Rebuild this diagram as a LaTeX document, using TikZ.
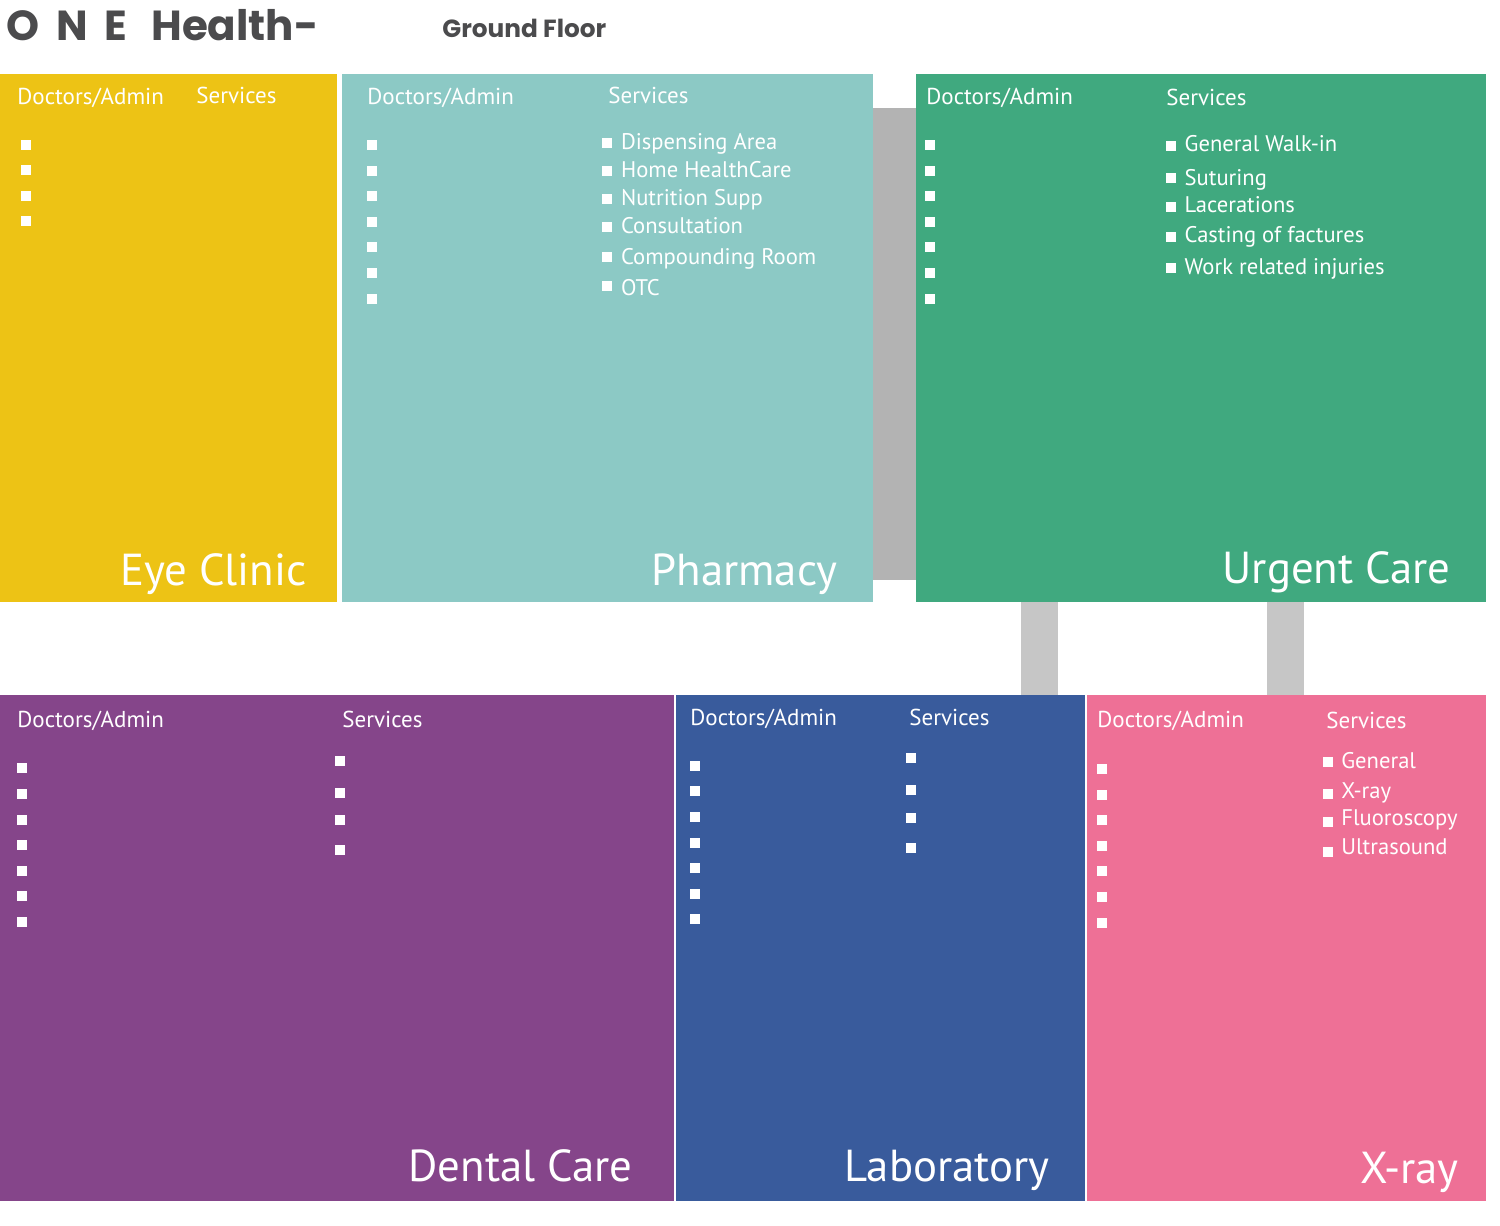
\documentclass[tikz,border=0pt]{standalone}
\usepackage{fontspec}
\setmainfont{PT Sans}
\newfontfamily\titlefont{Poppins}
\usetikzlibrary{calc}

\definecolor{eyeyellow}{HTML}{EDC315}
\definecolor{pharmteal}{HTML}{8CC9C5}
\definecolor{urgentgreen}{HTML}{40A97F}
\definecolor{dentalpurple}{HTML}{85458A}
\definecolor{labblue}{HTML}{395B9C}
\definecolor{xraypink}{HTML}{EE7096}
\definecolor{hallgray}{HTML}{B3B3B3}
\definecolor{linkgray}{HTML}{C6C6C6}
\definecolor{titlegray}{HTML}{4B4B4D}

\begin{document}
\begin{tikzpicture}[x=0.5pt,y=-0.5pt,
	head/.style={text=white,inner sep=0pt,anchor=base west,font=\fontsize{11.5}{13}\selectfont},
	item/.style={text=white,inner sep=0pt,anchor=base west,font=\fontsize{11.3}{13}\selectfont},
	roomname/.style={text=white,inner sep=0pt,anchor=base east,font=\fontsize{22.4}{27}\selectfont}]
	\pgfmathsetmacro{\bul}{10}			%size of a bullet square
	\pgfmathsetmacro{\gap}{25.6}		%spacing of the empty bullets
	\pgfmathsetmacro{\uptop}{74}		%top of the upper rooms
	\pgfmathsetmacro{\upbot}{602}		%bottom of the upper rooms
	\pgfmathsetmacro{\lowtop}{695}		%top of the lower rooms
	\pgfmathsetmacro{\lowbot}{1201}		%bottom of the lower rooms

	\useasboundingbox (0,0) rectangle (1500,1226);

	%title
	\node[anchor=base west,inner sep=0pt,text=titlegray,font=\titlefont\bfseries\fontsize{21}{25}\selectfont] (title) at (6,40) {O\kern4pt\ N\kern4pt\ E\kern3pt\ \ Health-};
	\node[anchor=base west,inner sep=0pt,text=titlegray,font=\titlefont\bfseries\fontsize{12.4}{15}\selectfont] (floor) at (442,38) {Ground Floor};

	%corridor and links
	\fill[hallgray] (873,108) rectangle (916,580);
	\fill[linkgray] (1021,\upbot) rectangle (1058,\lowtop);
	\fill[linkgray] (1267,\upbot) rectangle (1304,\lowtop);

	%upper rooms
	\fill[eyeyellow] (0,\uptop) rectangle (337,\upbot);
	\fill[pharmteal] (342,\uptop) rectangle (873,\upbot);
	\fill[urgentgreen] (916,\uptop) rectangle (1486,\upbot);

	%lower rooms
	\fill[dentalpurple] (0,\lowtop) rectangle (674,\lowbot);
	\fill[labblue] (676,\lowtop) rectangle (1085,\lowbot);
	\fill[xraypink] (1087,\lowtop) rectangle (1486,\lowbot);

	%eye clinic
	\node[head] (eyedoc) at (17,104) {Doctors/Admin};
	\node[head] (eyeserv) at (196,103) {Services};
	\foreach \i in {0,...,3} \fill[white] (21,{139.5+\i*\gap}) rectangle ++(\bul,\bul);
	\node[roomname] (eyename) at (307,585) {Eye Clinic};

	%pharmacy
	\node[head] (pharmdoc) at (367,104) {Doctors/Admin};
	\node[head] (pharmserv) at (608,103) {Services};
	\foreach \i in {0,...,6} \fill[white] (367,{140+\i*\gap}) rectangle ++(\bul,\bul);
	\foreach \c/\b/\t [count=\n] in {143/149.3/Dispensing Area, 171/177.3/Home HealthCare, 199/205/Nutrition Supp, 226.7/233.3/Consultation, 256.7/264/Compounding Room, 285.7/295.7/OTC}{
		\fill[white] (602,\c-5) rectangle ++(\bul,\bul);
		\node[item] (pharm\n) at (620.7,\b) {\t};
	}
	\node[roomname] (pharmname) at (838,585) {Pharmacy};

	%urgent care
	\node[head] (urgdoc) at (926,104) {Doctors/Admin};
	\node[head] (urgserv) at (1166,105) {Services};
	\foreach \i in {0,...,6} \fill[white] (925,{140+\i*\gap}) rectangle ++(\bul,\bul);
	\foreach \c/\b/\t [count=\n] in {145.7/151.7/General Walk-in, 178/185/Suturing, 206.7/212.3/Lacerations, 236.7/242.7/Casting of factures, 268/274/Work related injuries}{
		\fill[white] (1166,\c-5) rectangle ++(\bul,\bul);
		\node[item] (urg\n) at (1184.3,\b) {\t};
	}
	\node[roomname] (urgname) at (1451,583) {Urgent Care};

	%dental care
	\node[head] (dentdoc) at (17,727.3) {Doctors/Admin};
	\node[head] (dentserv) at (342,727) {Services};
	\foreach \i in {0,...,6} \fill[white] (17,{763.3+\i*\gap}) rectangle ++(\bul,\bul);
	\foreach \y in {756,788.3,815.3,845.3} \fill[white] (335,\y) rectangle ++(\bul,\bul);
	\node[roomname] (dentname) at (633,1181) {Dental Care};

	%laboratory
	\node[head] (labdoc) at (690,725.3) {Doctors/Admin};
	\node[head] (labserv) at (909,725) {Services};
	\foreach \i in {0,...,6} \fill[white] (689.5,{760.7+\i*\gap}) rectangle ++(\bul,\bul);
	\foreach \y in {753.3,785.3,812.7,842.7} \fill[white] (906,\y) rectangle ++(\bul,\bul);
	\node[roomname] (labname) at (1050,1181) {Laboratory};

	%x-ray
	\node[head] (xdoc) at (1097,727.7) {Doctors/Admin};
	\node[head] (xserv) at (1326,728) {Services};
	\foreach \i in {0,...,6} \fill[white] (1097,{764+\i*\gap}) rectangle ++(\bul,\bul);
	\foreach \c/\b/\t [count=\n] in {762/768/General, 794/798/X-ray, 822/825/Fluoroscopy, 852/854/Ultrasound}{
		\fill[white] (1323,\c-5) rectangle ++(\bul,\bul);
		\node[item] (xray\n) at (1341,\b) {\t};
	}
	\node[roomname] (xname) at (1459,1183) {X-ray};
\end{tikzpicture}
\end{document}
